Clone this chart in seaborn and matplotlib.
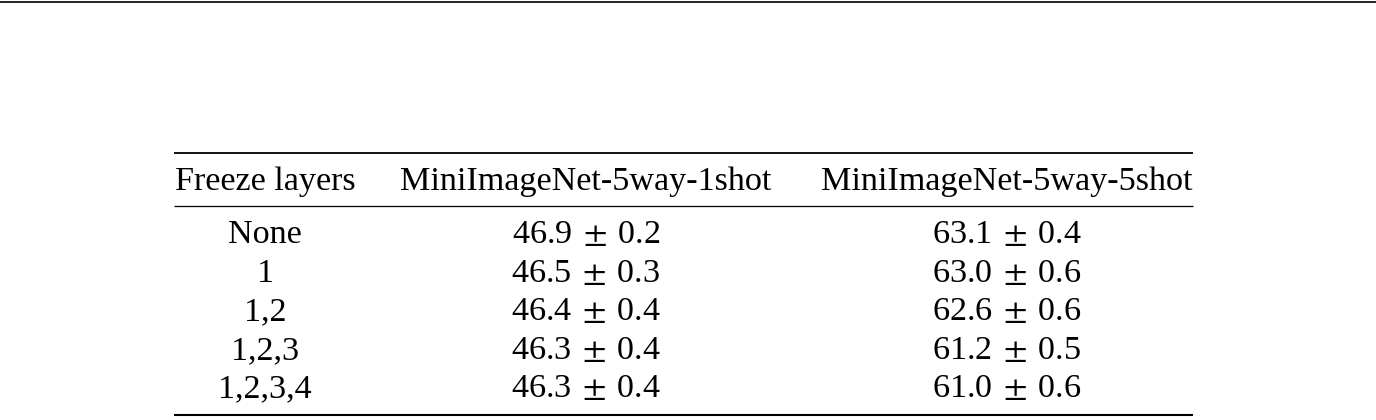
import pandas as pd
import seaborn as sns
import matplotlib.pyplot as plt

# data of the table
freeze_layers = ['None', '1', '1,2', '1,2,3', '1,2,3,4']
acc_1shot = [46.9, 46.5, 46.4, 46.3, 46.3]
std_1shot = [0.2, 0.3, 0.4, 0.4, 0.4]
acc_5shot = [63.1, 63.0, 62.6, 61.2, 61.0]
std_5shot = [0.4, 0.6, 0.6, 0.5, 0.6]
headers = ['Freeze layers', 'MiniImageNet-5way-1shot', 'MiniImageNet-5way-5shot']

# wider gap round the plus-minus sign, like latex math spacing
sp = '\u2004'
pm = r'$\pm$'
df = pd.DataFrame({
    headers[0]: freeze_layers,
    headers[1]: [f'{m:.1f}{sp}{pm}{sp}{s:.1f}' for m, s in zip(acc_1shot, std_1shot)],
    headers[2]: [f'{m:.1f}{sp}{pm}{sp}{s:.1f}' for m, s in zip(acc_5shot, std_5shot)],
})

sns.set_theme(style='white')
plt.rcParams['font.family'] = ['Liberation Serif', 'DejaVu Serif']
plt.rcParams['mathtext.fontset'] = 'stix'

fig = plt.figure(figsize=(13.76, 4.2), dpi=100)
ax = fig.add_axes([0, 0, 1, 1])
ax.set_xlim(0, 1376)
ax.set_ylim(420, 0)
ax.axis('off')

# layout (pixel space)
col_x = [265, 586, 1007]
header_y = 190
row_y0 = 243
row_step = 38.6
left, right = 174, 1193
fs = 24.6

# rules
ax.plot([0, 1376], [1.5, 1.5], color='#222222', lw=1.4, solid_capstyle='butt')
ax.plot([left, right], [152.5, 152.5], color='black', lw=1.3, solid_capstyle='butt')
ax.plot([left, right], [206, 206], color='black', lw=0.9, solid_capstyle='butt')
ax.plot([left, right], [414.5, 414.5], color='black', lw=1.5, solid_capstyle='butt')

for x, h in zip(col_x, headers):
    ax.text(x, header_y, h, ha='center', va='baseline', fontsize=fs, color='black')

for i, row in df.iterrows():
    y = row_y0 + i * row_step
    for x, h in zip(col_x, headers):
        ax.text(x, y, row[h], ha='center', va='baseline', fontsize=fs, color='black')

fig.savefig('out.png', dpi=100, facecolor='white')
